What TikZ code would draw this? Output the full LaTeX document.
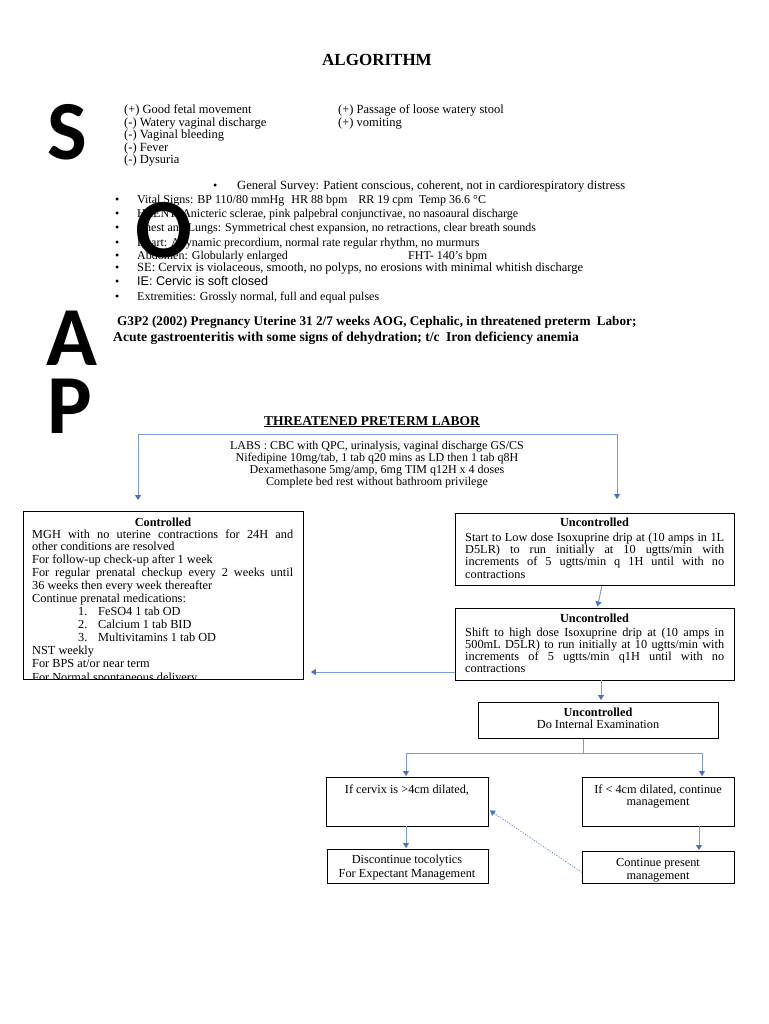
\documentclass[tikz,border=0pt]{standalone}
\usepackage{fontspec}
\setmainfont{Liberation Serif}
\newfontfamily\bigsans{Carlito}
\newfontfamily\arialf{Liberation Sans}
\usetikzlibrary{arrows.meta}
\definecolor{lineblue}{RGB}{125,155,212}
\definecolor{tipblue}{RGB}{68,114,196}
\begin{document}
\begin{tikzpicture}[x=1pt,y=-1pt,
  txt/.style={anchor=base west, inner sep=0pt, font=\fontsize{12.5}{12.5}\selectfont},
  otxt/.style={anchor=base west, inner sep=0pt, font=\fontsize{12}{12}\selectfont},
  btxt/.style={anchor=base west, inner sep=0pt, font=\fontsize{13.2}{13.2}\selectfont\bfseries},
  ctxt/.style={anchor=base, inner sep=0pt, font=\fontsize{12}{12}\selectfont},
  bxt/.style={anchor=base west, inner sep=0pt, font=\fontsize{12.3}{12.3}\selectfont},
  cbxt/.style={anchor=base, inner sep=0pt, font=\fontsize{12.3}{12.3}\selectfont},
  head/.style={anchor=base, inner sep=0pt, font=\fontsize{12.3}{12.3}\selectfont\bfseries},
  big/.style={anchor=base, inner sep=0pt, font=\fontsize{84}{84}\bigsans\bfseries},
  box/.style={draw=black, line width=0.9pt, inner sep=0pt, anchor=north west},
  conn/.style={draw=lineblue, line width=1pt},
  arr/.style={conn, -{Triangle[length=5pt,width=6pt,color=tipblue]}},
  dotarr/.style={draw=tipblue, line width=0.6pt, dash pattern=on 1.2pt off 1.5pt, -{Triangle[length=5pt,width=6pt,color=tipblue]}},
]
\useasboundingbox (0,0) rectangle (768,1024);

% title
\node[anchor=base, inner sep=0pt, font=\fontsize{17}{17}\selectfont\bfseries] (title) at (377,66) {ALGORITHM};

% S
\node[txt] (s1) at (124,114) {(+) Good fetal movement};
\node[txt] (s2) at (124,126.5) {(-) Watery vaginal discharge};
\node[txt] (s3) at (124,139) {(-) Vaginal bleeding};
\node[txt] (s4) at (124,151.5) {(-) Fever};
\node[txt] (s5) at (124,164) {(-) Dysuria};
\node[txt] (s6) at (338,114) {(+) Passage of loose watery stool};
\node[txt] (s7) at (338,126.5) {(+) vomiting};

% O
\node[otxt] (ob0) at (213,190) {\textbullet};
\node[otxt, font=\fontsize{12.55}{12.55}\selectfont] (o0) at (237,190) {General Survey: Patient conscious, coherent, not in cardiorespiratory distress};
\foreach \yy/\nm in {204/ob1,217.5/ob2,232/ob3,246/ob4,259/ob5,271/ob6,285/ob7,300/ob8}
  \node[otxt] (\nm) at (115,\yy) {\textbullet};
\node[otxt] (o1) at (137,204) {Vital Signs: BP 110/80 mmHg\hspace{7pt}HR 88 bpm\hspace{11pt}RR 19 cpm\hspace{6pt}Temp 36.6 °C};
\node[otxt] (o2) at (137,217.5) {HEENT: Anicteric sclerae, pink palpebral conjunctivae, no nasoaural discharge};
\node[otxt] (o3) at (137,232) {Chest and Lungs: Symmetrical chest expansion, no retractions, clear breath sounds};
\node[otxt] (o4) at (137,246) {Heart: Adynamic precordium, normal rate regular rhythm, no murmurs};
\node[otxt] (o5) at (137,259) {Abdomen: Globularly enlarged};
\node[otxt] (o5b) at (408,259) {FHT- 140’s bpm};
\node[otxt, font=\fontsize{12.5}{12.5}\selectfont] (o6) at (137,271) {SE: Cervix is violaceous, smooth, no polyps, no erosions with minimal whitish discharge};
\node[anchor=base west, inner sep=0pt, font=\fontsize{12.6}{12.6}\arialf] (o7) at (137,285.5) {IE: Cervic is soft closed};
\node[otxt] (o8) at (137,300) {Extremities: Grossly normal, full and equal pulses};

% A
\node[btxt] (a1) at (117,325) {G3P2 (2002) Pregnancy Uterine 31 2/7 weeks AOG, Cephalic, in threatened preterm\hspace{3pt} Labor;};
\node[btxt, font=\fontsize{13.6}{13.6}\selectfont\bfseries] (a2) at (113,341) {Acute gastroenteritis with some signs of dehydration; t/c\hspace{3pt} Iron deficiency anemia};

% big letters
\node[big] (S) at (67,160) {S};
\node[big] (O) at (164,258) {O};
\node[big] (A) at (72,365) {A};
\node[big] (P) at (70,433) {P};

% P section
\node[anchor=base, inner sep=0pt, font=\fontsize{13.5}{13.5}\selectfont\bfseries] (tpl) at (372,425) {\underline{THREATENED PRETERM LABOR}};
\node[ctxt] (l1) at (377,449) {LABS : CBC with QPC, urinalysis, vaginal discharge GS/CS};
\node[ctxt] (l2) at (377,461) {Nifedipine 10mg/tab, 1 tab q20 mins as LD then 1 tab q8H};
\node[ctxt] (l3) at (377,473) {Dexamethasone 5mg/amp, 6mg TIM q12H x 4 doses};
\node[ctxt] (l4) at (377,485) {Complete bed rest without bathroom privilege};

% boxes
\node[box, minimum width=280pt, minimum height=168pt] (ctrl) at (23,511) {};
\node[box, minimum width=279pt, minimum height=72pt] (u1) at (455,513) {};
\node[box, minimum width=279pt, minimum height=72pt] (u2) at (455,608) {};
\node[box, minimum width=240pt, minimum height=36pt] (u3) at (478,702) {};
\node[box, minimum width=162pt, minimum height=49pt] (c4) at (326,777) {};
\node[box, minimum width=152pt, minimum height=49pt] (c5) at (582,777) {};
\node[box, minimum width=161pt, minimum height=34pt] (c6) at (327,849) {};
\node[box, minimum width=152pt, minimum height=32pt] (c7) at (582,851) {};

% controlled text
\node[head] (ch) at (163,526) {Controlled};
\node[bxt] (k1) at (32,538) {\makebox[261pt][s]{MGH with no uterine contractions for 24H and}};
\node[bxt] (k2) at (32,550.9) {other conditions are resolved};
\node[bxt] (k3) at (32,563.8) {For follow-up check-up after 1 week};
\node[bxt] (k4) at (32,576.7) {\makebox[261pt][s]{For regular prenatal checkup every 2 weeks until}};
\node[bxt] (k5) at (32,589.6) {36 weeks then every week thereafter};
\node[bxt] (k6) at (32,602.5) {Continue prenatal medications:};
\node[bxt] (n1) at (78,615.4) {1.};
\node[bxt] (m1) at (98,615.4) {FeSO4 1 tab OD};
\node[bxt] (n2) at (78,628.3) {2.};
\node[bxt] (m2) at (98,628.3) {Calcium 1 tab BID};
\node[bxt] (n3) at (78,641.2) {3.};
\node[bxt] (m3) at (98,641.2) {Multivitamins 1 tab OD};
\node[bxt] (k7) at (32,654.1) {NST weekly};
\node[bxt] (k8) at (32,667) {For BPS at/or near term};
\begin{scope}
  \clip (ctrl.north west) rectangle (ctrl.south east);
  \node[bxt] (k9) at (32,681) {For Normal spontaneous delivery};
\end{scope}

% uncontrolled 1
\node[head] (u1h) at (594.5,526) {Uncontrolled};
\node[bxt] (p1) at (465,541) {\makebox[259pt][s]{Start to Low dose Isoxuprine drip at (10 amps in 1L}};
\node[bxt] (p2) at (465,553) {\makebox[259pt][s]{D5LR) to run initially at 10 ugtts/min with}};
\node[bxt] (p3) at (465,565) {\makebox[259pt][s]{increments of 5 ugtts/min q 1H until with no}};
\node[bxt] (p4) at (465,578) {contractions};

% uncontrolled 2
\node[head] (u2h) at (594.5,622) {Uncontrolled};
\node[bxt] (q1) at (465,636) {\makebox[259pt][s]{Shift to high dose Isoxuprine drip at (10 amps in}};
\node[bxt] (q2) at (465,648) {\makebox[259pt][s]{500mL D5LR) to run initially at 10 ugtts/min with}};
\node[bxt] (q3) at (465,660) {\makebox[259pt][s]{increments of 5 ugtts/min q1H until with no}};
\node[bxt] (q4) at (465,672) {contractions};

% uncontrolled 3
\node[head] (u3h) at (598,716) {Uncontrolled};
\node[cbxt] (u3t) at (598,728) {Do Internal Examination};

% bottom boxes
\node[cbxt] (c4t) at (407,793) {If cervix is >4cm dilated,};
\node[cbxt] (c5t) at (658,793) {If < 4cm dilated, continue};
\node[cbxt] (c5u) at (658,805) {management};
\node[cbxt] (c6t) at (407,863) {Discontinue tocolytics};
\node[cbxt] (c6u) at (407,877) {For Expectant Management};
\node[cbxt] (c7t) at (658,866) {Continue present};
\node[cbxt] (c7u) at (658,879) {management};

% connectors
\coordinate (tl) at (138,434);
\coordinate (tr) at (617,434);
\draw[conn] (tl) -- (tr);
\draw[arr, shorten >=11pt] (tl) -- (tl |- ctrl.north);
\draw[arr, shorten >=14pt] (tr) -- (tr |- u1.north);
\draw[arr] ([xshift=7pt]u1.south) -- ([xshift=2.5pt,yshift=1.5pt]u2.north);
\coordinate (u2w) at (455,672);
\draw[arr, shorten >=7pt] (u2w) -- (u2w -| ctrl.east);
\coordinate (u2s) at (601,680);
\draw[arr, shorten >=2pt] (u2s) -- (u2s |- u3.north);
\coordinate (sp) at (583,753);
\coordinate (hl) at (406,753);
\coordinate (hr) at (702,753);
\draw[conn] (sp |- u3.south) -- (sp);
\draw[conn] (hl) -- (hr);
\draw[arr, shorten >=1pt] (hl) -- (hl |- c4.north);
\draw[arr, shorten >=1pt] (hr) -- (hr |- c5.north);
\coordinate (c4s) at (406,826);
\draw[arr, shorten >=1pt] (c4s) -- (c4s |- c6.north);
\coordinate (c5s) at (699,826);
\draw[arr, shorten >=1pt] (c5s) -- (c5s |- c7.north);
\draw[dotarr] ([yshift=-5pt]c7.west) -- ([xshift=1pt,yshift=-8.5pt]c4.east);
\end{tikzpicture}
\end{document}
